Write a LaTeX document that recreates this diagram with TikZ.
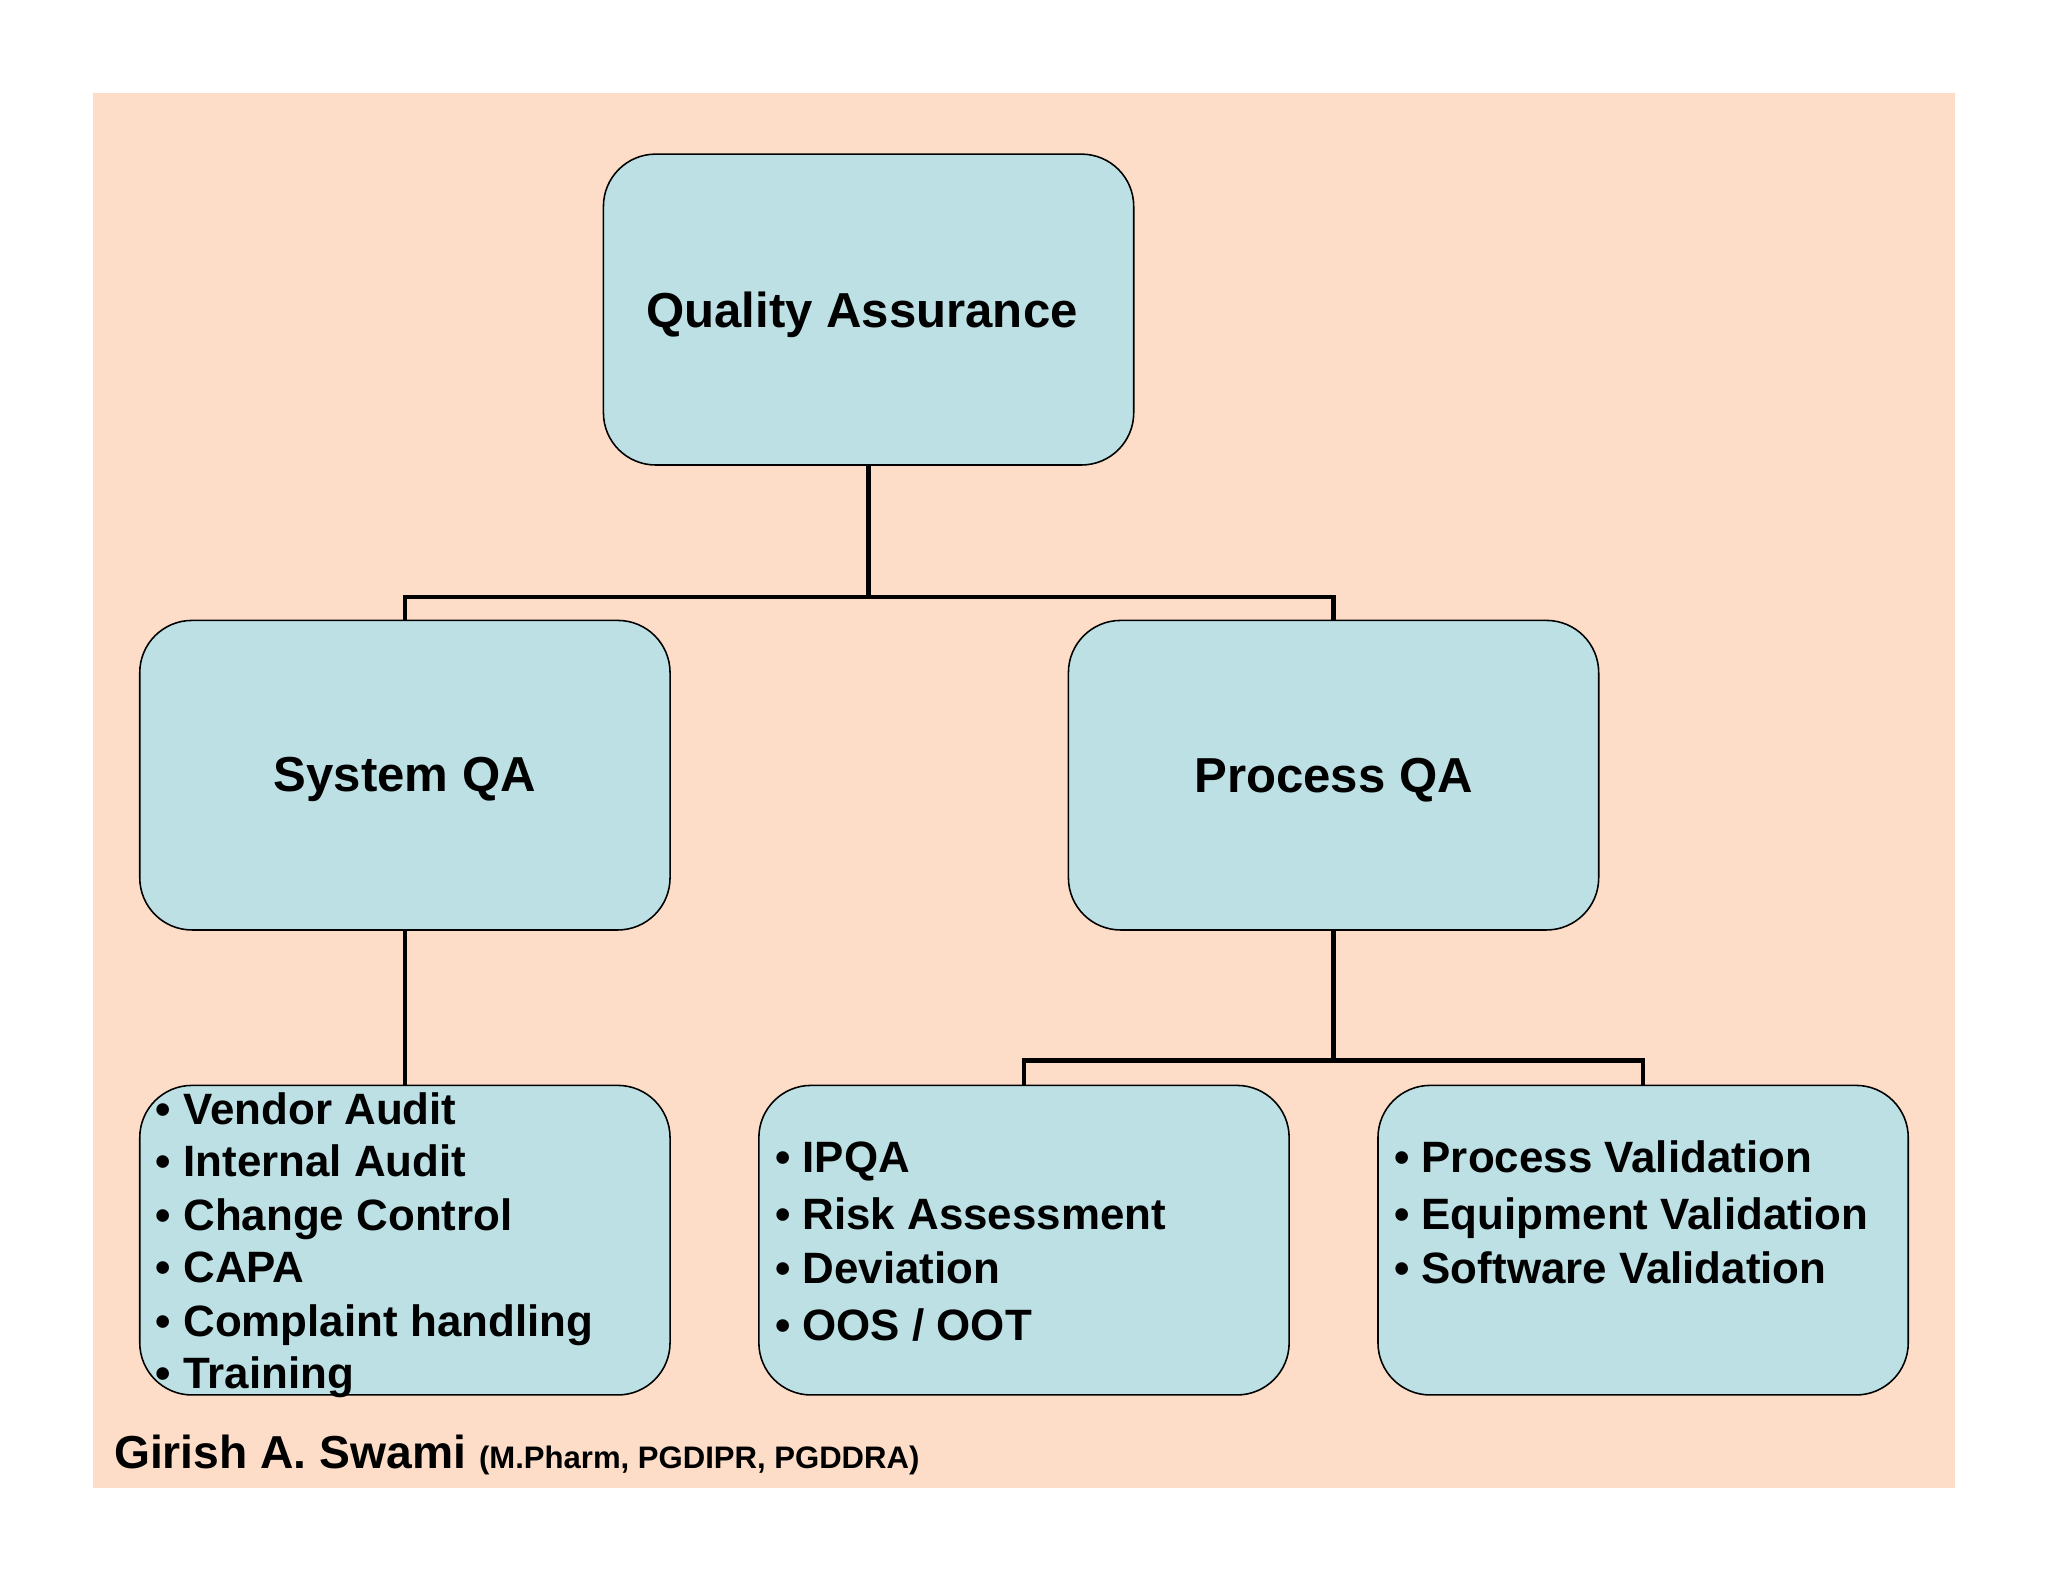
\documentclass[tikz,border=0pt]{standalone}
\usepackage{fontspec}
\setmainfont{Liberation Sans}
\begin{document}
\begin{tikzpicture}[x=0.5pt,y=-0.5pt,
 box/.style={draw=black,line width=0.6pt,fill=boxc,rounded corners=20pt},
 head/.style={font=\fontsize{18.8}{22}\selectfont\bfseries},
 item/.style={anchor=base west,inner sep=0,font=\fontsize{16.8}{20}\selectfont\bfseries},
 con/.style={line width=1.8pt}]
\definecolor{bg}{RGB}{253,221,200}
\definecolor{boxc}{RGB}{188,224,228}
\useasboundingbox (0,0) rectangle (1568,1211);
\fill[bg] (71,71) rectangle (1497,1139);
\draw[box] (462,118) rectangle (868,356);
\draw[box] (107,475) rectangle (513,712);
\draw[box] (818,475) rectangle (1224,712);
\draw[box] (107,831) rectangle (513,1068);
\draw[box] (581,831) rectangle (987,1068);
\draw[box] (1055,831) rectangle (1461,1068);
\node[head] (qa) at (660,241) {Quality Assurance};
\node[head] (sqa) at (310,597) {System QA};
\node[head] (pqa) at (1021,597) {Process QA};
\coordinate (qab) at (665,356); \coordinate (qaj) at (665,457);
\coordinate (sl) at (310,457); \coordinate (st) at (310,475);
\coordinate (pr) at (1021,457); \coordinate (pt) at (1021,475);
\draw[con] (qab) -- (qaj);
\draw[con] (st) -- (sl) -- (pr) -- (pt);
\coordinate (sb) at (310,712); \coordinate (sbt) at (310,831);
\draw[con] (sb) -- (sbt);
\coordinate (pb) at (1021,712); \coordinate (pj) at (1021,812);
\coordinate (ml) at (784,812); \coordinate (mt) at (784,831);
\coordinate (rr) at (1258,812); \coordinate (rt) at (1258,831);
\draw[con] (pb) -- (pj);
\draw[con] (mt) -- (ml) -- (rr) -- (rt);
\node[item] (s1) at (119,861) {• Vendor Audit};
\node[item] (s2) at (119,901) {• Internal Audit};
\node[item] (s3) at (119,942) {• Change Control};
\node[item] (s4) at (119,982) {• CAPA};
\node[item] (s5) at (119,1023) {• Complaint handling};
\node[item] (s6) at (119,1063) {• Training};
\node[item] (m1) at (593,898) {• IPQA};
\node[item] (m2) at (593,941) {• Risk Assessment};
\node[item] (m3) at (593,983) {• Deviation};
\node[item] (m4) at (593,1026) {• OOS / OOT};
\node[item] (r1) at (1067,898) {• Process Validation};
\node[item] (r2) at (1067,941) {• Equipment Validation};
\node[item] (r3) at (1067,983) {• Software Validation};
\node[anchor=base west,inner sep=0,font=\fontsize{17.7}{20}\selectfont\bfseries] (au) at (87,1124) {Girish A. Swami {\fontsize{11.9}{14}\selectfont (M.Pharm, PGDIPR, PGDDRA)}};
\end{tikzpicture}
\end{document}
